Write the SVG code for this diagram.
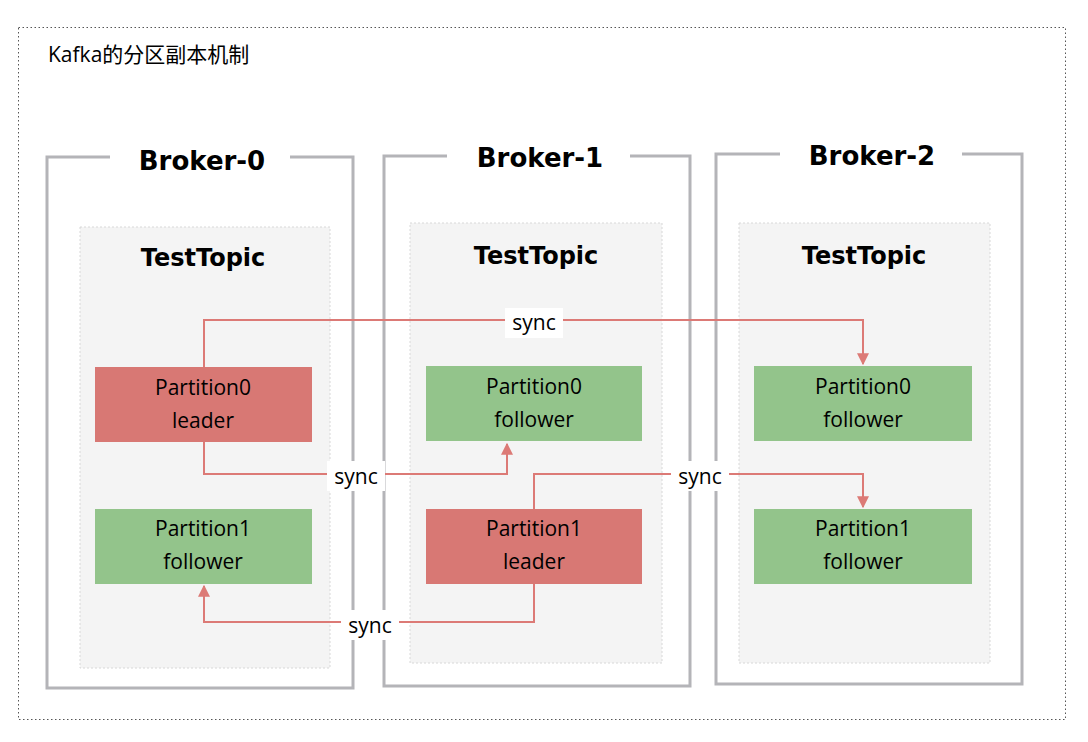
<svg xmlns="http://www.w3.org/2000/svg" width="1088" height="742" viewBox="0 0 1088 742">
<style>
text{font-family:"Open Sans","Noto Sans CJK SC",sans-serif;fill:#000}
.b{fill:none;stroke:#b4b4b8;stroke-width:3}
.bt{font-size:26px;font-weight:bold;text-anchor:middle;font-family:"DejaVu Sans",sans-serif}
.tp{fill:#f4f4f4;stroke:#d8d8d8;stroke-dasharray:2 2}
.tt{font-size:24px;font-weight:bold;text-anchor:middle;font-family:"DejaVu Sans",sans-serif}
.ld{fill:#d87874}.fl{fill:#93c48b}
.pt{font-size:21px;text-anchor:middle}
.c{fill:none;stroke:#dc7a76;stroke-width:2}
.lb{fill:#fff}.lt{font-size:21px;text-anchor:middle}
</style>
<defs><marker id="a" viewBox="0 0 10 10" refX="9" refY="5" markerWidth="6" markerHeight="6" orient="auto"><path d="M0,0L10,5L0,10z" fill="#dc7a76"/></marker></defs>
<rect width="1088" height="742" fill="#fff"/>
<rect x="18.5" y="27.5" width="1047" height="692" fill="none" stroke="#555" stroke-dasharray="1.5 2.5"/>
<text x="48" y="62" font-size="21">Kafka的分区副本机制</text>
<g id="broker0"><path class="b" d="M110,157H47V688H353V157H290"/><text class="bt" x="202" y="170">Broker-0</text>
<rect class="tp" x="80" y="227" width="250" height="441"/><text class="tt" x="203" y="266">TestTopic</text></g>
<g id="broker1"><path class="b" d="M447,156H384V686H690V156H630"/><text class="bt" x="540" y="167">Broker-1</text>
<rect class="tp" x="410" y="223" width="252" height="440"/><text class="tt" x="536" y="264">TestTopic</text></g>
<g id="broker2"><path class="b" d="M780,154H716V684H1022V154H962"/><text class="bt" x="872" y="165">Broker-2</text>
<rect class="tp" x="739" y="223" width="251" height="440"/><text class="tt" x="864" y="264">TestTopic</text></g>
<g id="b0p0"><rect class="ld" x="95" y="367" width="217" height="75"/><text class="pt" x="203" y="395">Partition0</text><text class="pt" x="203" y="428">leader</text></g>
<g id="b0p1"><rect class="fl" x="95" y="509" width="217" height="75"/><text class="pt" x="203" y="536">Partition1</text><text class="pt" x="203" y="569">follower</text></g>
<g id="b1p0"><rect class="fl" x="426" y="366" width="216" height="75"/><text class="pt" x="534" y="394">Partition0</text><text class="pt" x="534" y="427">follower</text></g>
<g id="b1p1"><rect class="ld" x="426" y="509" width="216" height="75"/><text class="pt" x="534" y="536">Partition1</text><text class="pt" x="534" y="569">leader</text></g>
<g id="b2p0"><rect class="fl" x="754" y="366" width="218" height="75"/><text class="pt" x="863" y="394">Partition0</text><text class="pt" x="863" y="427">follower</text></g>
<g id="b2p1"><rect class="fl" x="754" y="509" width="218" height="75"/><text class="pt" x="863" y="536">Partition1</text><text class="pt" x="863" y="569">follower</text></g>
<g id="connectors">
<path class="c" d="M204,367V320H863V364" marker-end="url(#a)"/>
<path class="c" d="M204,442V474H507V444" marker-end="url(#a)"/>
<path class="c" d="M534,509V474H863V507" marker-end="url(#a)"/>
<path class="c" d="M534,584V622H204V586" marker-end="url(#a)"/>
<rect class="lb" x="505" y="308" width="58" height="30"/><text class="lt" x="534" y="330">sync</text>
<rect class="lb" x="327" y="461" width="58" height="30"/><text class="lt" x="356" y="484">sync</text>
<rect class="lb" x="671" y="461" width="58" height="30"/><text class="lt" x="700" y="484">sync</text>
<rect class="lb" x="341" y="610" width="58" height="30"/><text class="lt" x="370" y="633">sync</text>
</g>
</svg>
